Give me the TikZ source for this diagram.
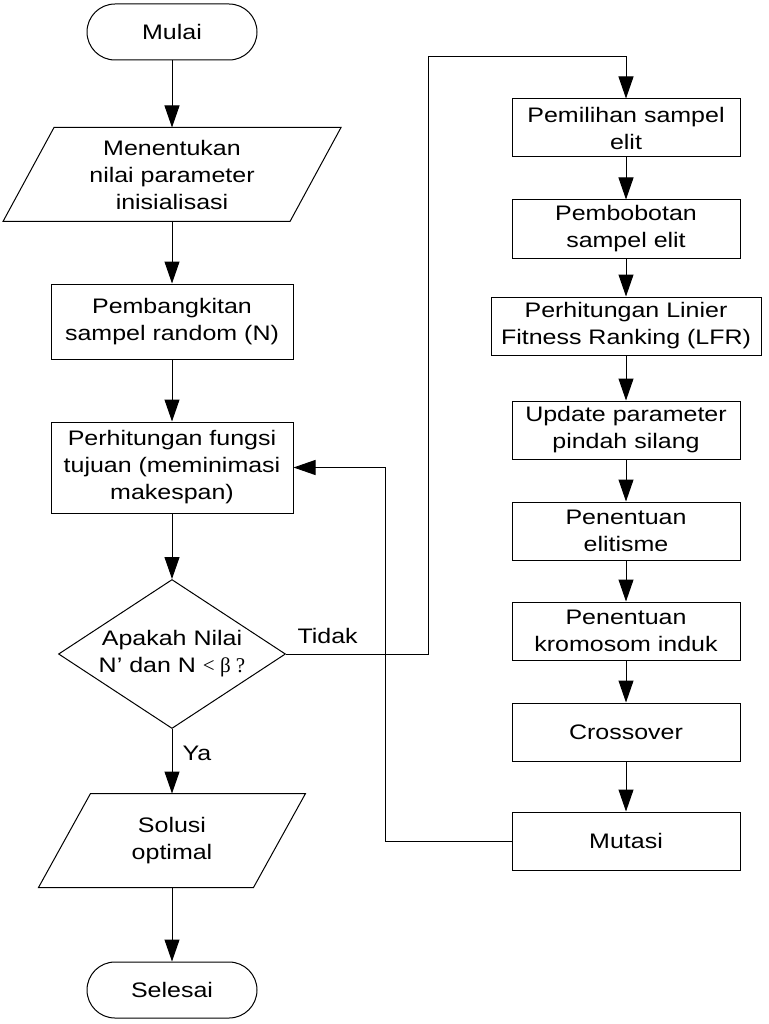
\documentclass[tikz,border=0pt]{standalone}
\usepackage{amsmath}
\usepackage{amssymb}
\usepackage{fontspec}
\setmainfont{Liberation Sans}[FakeStretch=1.19]
\newfontfamily\simbol{Liberation Serif}
\usetikzlibrary{arrows.meta,shapes.geometric,calc}

\tikzset{
  terminal/.style={draw, rounded corners=28pt, minimum width=170pt, minimum height=56pt, inner sep=2pt, align=center},
  proses/.style={draw, rectangle, minimum width=228pt, minimum height=58pt, inner sep=2pt, align=center},
  io/.style={rectangle, minimum height=93pt, inner sep=2pt, align=center},
  keputusan/.style={draw, diamond, aspect=1.52, minimum width=227pt, minimum height=149pt, inner sep=-3pt, align=center},
  panah/.style={-{Triangle[length=22pt,width=15pt]}},
}

\begin{document}
\begin{tikzpicture}[x=1pt,y=-1pt,line width=1pt,font=\fontsize{21}{27}\selectfont]
\useasboundingbox (0,0) rectangle (768,1024);

%Shape: Terminal [id:mulai]
\node [terminal] (mulai) at (172,32) {Mulai};
%Shape: Parallelogram [id:param]
\node [io, minimum width=286pt] (param) at (172,174.5) {Menentukan\\nilai parameter\\inisialisasi};
\draw ($(param.north west)+(25.5,0)$) -- ($(param.north east)+(25.5,0)$) -- ($(param.south east)+(-25.5,0)$) -- ($(param.south west)+(-25.5,0)$) -- cycle ;
%Shape: Rectangle [id:bangkit]
\node [proses, minimum width=242pt, minimum height=75pt] (bangkit) at (172,321.5) {Pembangkitan\\sampel random (N)};
%Shape: Rectangle [id:fungsi]
\node [proses, minimum width=242pt, minimum height=91pt] (fungsi) at (172,467.5) {Perhitungan fungsi\\tujuan (meminimasi\\makespan)};
%Shape: Diamond [id:cek]
\node [keputusan] (cek) at (172,654) {Apakah Nilai\\N’ dan N {\simbol< β ?}};
%Shape: Parallelogram [id:solusi]
\node [io, minimum width=214pt] (solusi) at (172,840.5) {Solusi\\optimal};
\draw ($(solusi.north west)+(26,0)$) -- ($(solusi.north east)+(26,0)$) -- ($(solusi.south east)+(-26,0)$) -- ($(solusi.south west)+(-26,0)$) -- cycle ;
%Shape: Terminal [id:selesai]
\node [terminal] (selesai) at (172,990) {Selesai};

%Shape: Rectangle [id:pilih]
\node [proses] (pilih) at (626,128) {Pemilihan sampel\\elit};
%Shape: Rectangle [id:bobot]
\node [proses] (bobot) at (626,229) {Pembobotan\\sampel elit};
%Shape: Rectangle [id:lfr]
\node [proses, minimum width=270pt] (lfr) at (626,326) {Perhitungan Linier\\Fitness Ranking (LFR)};
%Shape: Rectangle [id:update]
\node [proses] (update) at (626,430) {Update parameter\\pindah silang};
%Shape: Rectangle [id:elit]
\node [proses] (elit) at (626,531) {Penentuan\\elitisme};
%Shape: Rectangle [id:induk]
\node [proses] (induk) at (626,631) {Penentuan\\kromosom induk};
%Shape: Rectangle [id:cross]
\node [proses] (cross) at (626,732) {Crossover};
%Shape: Rectangle [id:mutasi]
\node [proses] (mutasi) at (626,841) {Mutasi};

%Straight Lines
\draw [panah] (mulai.south) -- (param.north) ;
\draw [panah] (param.south) -- (bangkit.north) ;
\draw [panah] (bangkit.south) -- (fungsi.north) ;
\draw [panah] (fungsi.south) -- (cek.north) ;
\draw [panah] (cek.south) -- (solusi.north) ;
\draw [panah] (solusi.south) -- (selesai.north) ;
\draw [panah] (pilih.south) -- (bobot.north) ;
\draw [panah] (bobot.south) -- (lfr.north) ;
\draw [panah] (lfr.south) -- (update.north) ;
\draw [panah] (update.south) -- (elit.north) ;
\draw [panah] (elit.south) -- (induk.north) ;
\draw [panah] (induk.south) -- (cross.north) ;
\draw [panah] (cross.south) -- (mutasi.north) ;
%Straight Lines [id:tidak]
\coordinate (atas) at (428,57);
\draw [panah] (cek.east) -| (atas) -| (pilih.north) ;
%Straight Lines [id:ulang]
\coordinate (bawah) at (385,841);
\draw [panah] (mutasi.west) -- (bawah) |- (fungsi.east) ;

% Text Node
\node [anchor=base west, inner sep=0pt] (tidak) at (297,643) {Tidak};
% Text Node
\node [anchor=base west, inner sep=0pt] (ya) at (182,760) {Ya};

\end{tikzpicture}
\end{document}
